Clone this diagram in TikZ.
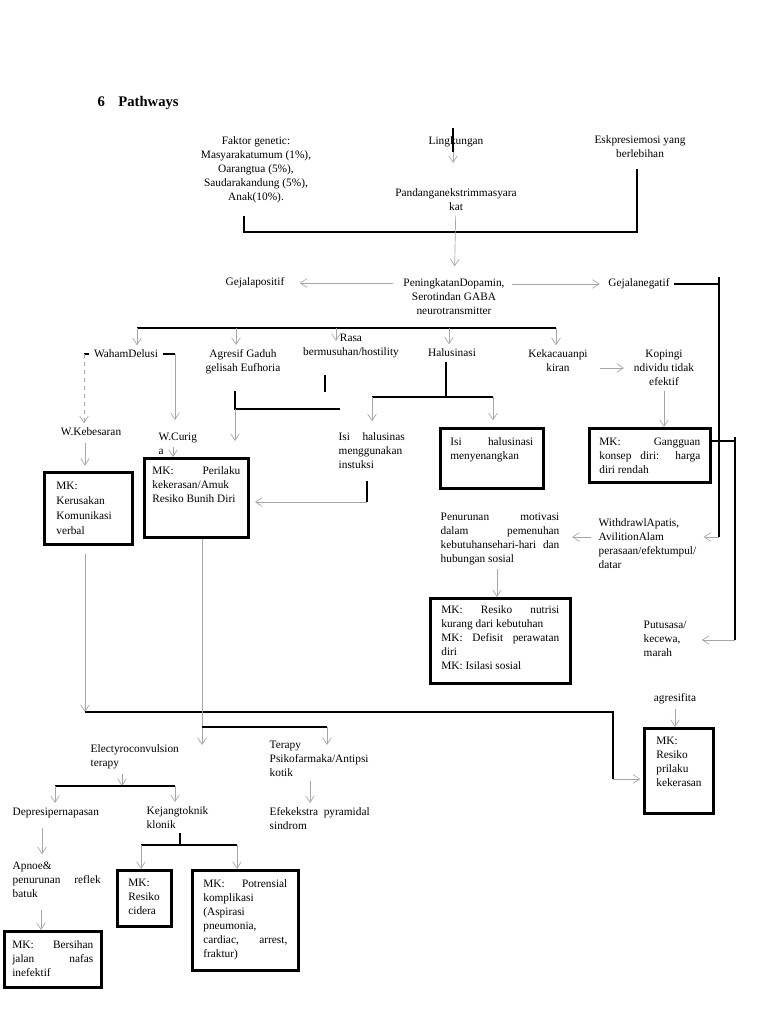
\documentclass[tikz,border=0pt]{standalone}
\usepackage{fontspec}
\setmainfont{Liberation Serif}
\usepackage{tikz}
\usetikzlibrary{arrows.meta}
\tikzstyle{every node}=[font=\fontsize{8.5}{10.5}\selectfont]
\tikzstyle{darkline}=[draw=black, line width=0.8pt]
\tikzstyle{greyarrow}=[draw=black!35, line width=0.5pt, -{Straight Barb[length=5pt,width=6.5pt]}]
\tikzstyle{mkbox}=[draw, line width=2pt, anchor=north west, text height=7pt, align=justify]
\hyphenpenalty=10000
\exhyphenpenalty=10000
\tolerance=10000
\hbadness=10000

\begin{document}
\begin{tikzpicture}[x=0.75pt, y=-0.75pt]
    \fill [white] (0, 0) rectangle (768, 1024);
    \useasboundingbox (0, 0) rectangle (768, 1024);
    \node (title) [anchor=base west, font=\fontsize{11}{13}\selectfont\bfseries] at (93, 107) {6\hspace{10pt}Pathways};

    \node (faktor) [align=center] at (256, 170) {Faktor genetic:\\Masyarakatumum (1\%),\\Oarangtua (5\%),\\Saudarakandung (5\%),\\Anak(10\%).};
    \node (lingkungan) at (456, 142) {Lingkungan};
    \node (pandangan) [align=center] at (456, 200) {Pandanganekstrimmasyara\\kat};
    \node (ekspresi) [align=center] at (640, 147) {Eskpresiemosi yang\\berlebihan};
    \node (peningkatan) [align=center] at (454, 297) {PeningkatanDopamin,\\Serotindan GABA\\neurotransmitter};
    \node (gpos) at (255, 283) {Gejalapositif};
    \node (gneg) at (639, 284) {Gejalanegatif};

    \node (waham) at (126, 354) {WahamDelusi};
    \node (agresif) [align=center] at (243, 362) {Agresif Gaduh\\gelisah Eufhoria};
    \node (rasa) [align=center] at (351, 346) {Rasa\\bermusuhan/hostility};
    \node (halusinasi) at (452, 353) {Halusinasi};
    \node (kekacauan) [align=center] at (558, 361) {Kekacauanpi\\kiran};
    \node (koping) [align=center] at (664, 368) {Kopingi\\ndividu tidak\\efektif};

    \node (wkeb) at (91, 432) {W.Kebesaran};
    \node (wcur) [align=left, anchor=north west] at (154, 428) {W.Curig\\a};
    \node (isihalmeng) [text width=49.5pt, align=justify, anchor=north west] at (334, 428) {Isi halusinas\linebreak menggunakan\newline instuksi};
    \node (isihalmen) [mkbox, inner xsep=7.5pt, inner ysep=5.75pt, text width=62.25pt, text depth=26.5pt] at (439, 427) {Isi halusinasi\linebreak menyenangkan};
    \node (gangguan) [mkbox, inner xsep=7.5pt, inner ysep=5.75pt, text width=75.75pt, text depth=22pt] at (588, 427) {MK: Gangguan\linebreak konsep diri: harga\linebreak diri rendah};
    \node (kerusakan) [mkbox, inner xsep=9pt, inner ysep=5.75pt, text width=48pt, text depth=35.5pt, font=\fontsize{8.5}{11.25}\selectfont] at (43, 471) {MK:\newline Kerusakan\newline Komunikasi\newline verbal};
    \node (perilaku) [mkbox, inner xsep=6pt, inner ysep=5pt, text width=66pt, text depth=42.25pt] at (143, 457) {MK: Perilaku\linebreak kekerasan/Amuk\newline Resiko Bunih Diri};

    \node (penurunan) [text width=89pt, align=justify, anchor=north west] at (436, 508) {Penurunan motivasi\linebreak dalam pemenuhan\linebreak kebutuhansehari-hari dan\linebreak hubungan sosial};
    \node (withdrawl) [align=left, anchor=north west] at (594, 514) {WithdrawlApatis,\\AvilitionAlam\\perasaan/efektumpul/\\datar};
    \node (nutrisi) [mkbox, inner xsep=8.25pt, inner ysep=4.25pt, text width=88.5pt, text depth=48.25pt] at (429, 597) {MK: Resiko nutrisi\linebreak kurang dari kebutuhan\newline MK: Defisit perawatan\linebreak diri\newline MK: Isilasi sosial};
    \node (putus) [align=left, anchor=north west] at (639, 616) {Putusasa/\\kecewa,\\marah};
    \node (agresifita) at (675, 699) {agresifita};
    \node (prilaku) [mkbox, inner xsep=9pt, inner ysep=5pt, text width=33.75pt, text depth=46.75pt] at (643, 727) {MK:\newline Resiko\newline prilaku\newline kekerasan};

    \node (elec) [align=left, anchor=north west] at (86, 740) {Electyroconvulsion\\terapy};
    \node (terapy) [align=left, anchor=north west] at (265, 736) {Terapy\\Psikofarmaka/Antipsi\\kotik};
    \node (depresi) [anchor=north west] at (8, 803) {Depresipernapasan};
    \node (kejang) [align=left, anchor=north west] at (142, 802) {Kejangtoknik\\klonik};
    \node (efek) [text width=75pt, align=justify, anchor=north west] at (265, 803) {Efekekstra pyramidal\linebreak sindrom};
    \node (apnoe) [text width=66pt, align=justify, anchor=north west] at (8, 857) {Apnoe\&\newline penurunan reflek\linebreak batuk};
    \node (cidera) [mkbox, inner xsep=8.25pt, inner ysep=5pt, text width=24pt, text depth=25pt] at (116, 869) {MK:\newline Resiko\newline cidera};
    \node (potrensial) [mkbox, inner xsep=8.25pt, inner ysep=5.75pt, text width=63pt, text depth=56.5pt] at (191, 869) {MK: Potrensial\linebreak komplikasi\newline (Aspirasi\newline pneumonia,\newline cardiac, arrest,\linebreak fraktur)};
    \node (bersihan) [mkbox, inner xsep=6pt, inner ysep=5.75pt, text width=60.75pt, text depth=23.5pt] at (3, 930) {MK: Bersihan\linebreak jalan nafas\linebreak inefektif};

    \coordinate (lk) at (453, 128);
    \coordinate (lkarr) at (453, 163);
    \coordinate (fk) at (244, 232);
    \coordinate (ek) at (637, 232);
    \coordinate (b1) at (137, 328);
    \coordinate (b2) at (236, 328);
    \coordinate (b3) at (336, 328);
    \coordinate (b4) at (449, 328);
    \coordinate (b5) at (556, 328);
    \coordinate (b3t) at (336, 341);
    \coordinate (rtop) at (719, 277);
    \coordinate (rbot) at (719, 537);
    \coordinate (gg) at (735, 441);
    \coordinate (rrtop) at (735, 437);
    \coordinate (rrbot) at (735, 640);
    \coordinate (wl) at (84, 354);
    \coordinate (wr) at (175, 354);
    \coordinate (wrt) at (175, 420);
    \coordinate (wcarr) at (173, 447);
    \coordinate (ag1) at (235, 409);
    \coordinate (ag2) at (340, 409);
    \coordinate (agt) at (235, 441);
    \coordinate (rs) at (325, 392);
    \coordinate (hb) at (446, 397);
    \coordinate (hb1) at (372, 397);
    \coordinate (hb2) at (493, 397);
    \coordinate (kk) at (624, 368);
    \coordinate (wd) at (580, 537);
    \coordinate (nt) at (497, 580);
    \coordinate (im) at (367, 502);
    \coordinate (kb1) at (85, 712);
    \coordinate (kb2) at (613, 712);
    \coordinate (kb3) at (613, 779);
    \coordinate (pb1) at (202, 727);
    \coordinate (pb2) at (327, 727);
    \coordinate (pbt) at (202, 745);
    \coordinate (pbt2) at (327, 745);
    \coordinate (el1) at (122, 786);
    \coordinate (el2) at (55, 786);
    \coordinate (el3) at (175, 786);
    \coordinate (tf) at (310, 790);
    \coordinate (dp) at (42, 840);
    \coordinate (kj) at (180, 845);
    \coordinate (kj1) at (141, 845);
    \coordinate (kj2) at (237, 845);
    \coordinate (ap) at (41, 920);

    \draw [darkline] (lk) -- (lk |- lingkungan.south);
    \draw [greyarrow] (lk |- lingkungan.south) -- (lkarr);
    \draw [darkline, shorten <=6pt, shorten >=5pt] (faktor.south -| fk) -- (fk) -- (ek) -- (ekspresi.south -| ek);
    \draw [greyarrow, shorten >=6pt] (pandangan) -- (peningkatan);
    \draw [greyarrow, shorten <=4pt, shorten >=8pt] (gpos -| peningkatan.west) -- (gpos.east);
    \draw [greyarrow, shorten <=2pt, shorten >=3pt] (gneg -| peningkatan.east) -- (gneg.west);
    \draw [darkline] (gneg.east) -- (gneg.east -| rtop);
    \draw [darkline] (rtop) -- (rbot);
    \draw [greyarrow, shorten >=2pt] (rbot) -- (rbot -| withdrawl.east);

    \draw [darkline] (b1) -- (b5);
    \draw [greyarrow] (b1) -- (b1 |- waham.north);
    \draw [greyarrow] (b2) -- (b2 |- agresif.north);
    \draw [greyarrow] (b3) -- (b3t);
    \draw [greyarrow] (b4) -- (b4 |- halusinasi.north);
    \draw [greyarrow] (b5) -- (b5 |- kekacauan.north);

    \draw [darkline] (waham.west) -- (wl);
    \draw [greyarrow, dashed] (wl) -- (wl |- wkeb.north);
    \draw [darkline] (waham.east) -- (wr);
    \draw [greyarrow] (wr) -- (wrt);
    \draw [greyarrow, shorten <=2pt, shorten >=4pt] (wkeb.south -| kb1) -- (kerusakan.north -| kb1);
    \draw [greyarrow] (wcarr) -- (perilaku.north -| wcarr);
    \draw [darkline, shorten <=9pt] (agresif.south -| ag1) -- (ag1) -- (ag2);
    \draw [greyarrow] (ag1) -- (agt);
    \draw [darkline, shorten <=9pt] (rasa.south -| rs) -- (rs);
    \draw [darkline] (halusinasi.south -| hb) -- (hb);
    \draw [darkline] (hb1) -- (hb2);
    \draw [greyarrow, shorten >=5pt] (hb1) -- (hb1 |- isihalmeng.north);
    \draw [greyarrow, shorten >=5pt] (hb2) -- (hb2 |- isihalmen.north);
    \draw [greyarrow, shorten <=6pt] (kekacauan.east |- kk) -- (kk);
    \draw [greyarrow] (koping.south) -- (koping.south |- gangguan.north);
    \draw [darkline] (gangguan.east |- gg) -- (gg);
    \draw [darkline] (rrtop) -- (rrbot);
    \draw [greyarrow, shorten >=8pt] (rrbot) -- (rrbot -| putus.east);
    \draw [greyarrow, shorten <=2pt, shorten >=6pt] (withdrawl.west |- wd) -- (penurunan.east |- wd);
    \draw [greyarrow] (penurunan.south -| nt) -- (nutrisi.north -| nt);
    \draw [darkline, shorten <=6pt] (isihalmeng.south -| im) -- (im);
    \draw [greyarrow, shorten >=4pt] (im) -- (im -| perilaku.east);

    \draw [greyarrow, shorten <=6pt] (kerusakan.south -| kb1) -- (kb1);
    \draw [darkline] (kb1) -- (kb2) -- (kb3);
    \draw [greyarrow, shorten >=2pt] (kb3) -- (kb3 -| prilaku.west);
    \draw [greyarrow] (agresifita.south) -- (agresifita.south |- prilaku.north);
    \draw [greyarrow] (perilaku.south -| pb1) -- (pbt);
    \draw [darkline] (pb1) -- (pb2);
    \draw [greyarrow] (pb2) -- (pbt2);
    \draw [greyarrow] (elec.south -| el1) -- (el1);
    \draw [darkline] (el2) -- (el3);
    \draw [greyarrow] (el2) -- (el2 |- depresi.north);
    \draw [greyarrow] (el3) -- (el3 |- kejang.north);
    \draw [greyarrow] (terapy.south -| tf) -- (efek.north -| tf);
    \draw [greyarrow, shorten <=4pt, shorten >=2pt] (depresi.south -| dp) -- (apnoe.north -| dp);
    \draw [darkline] (kejang.south -| kj) -- (kj);
    \draw [darkline] (kj1) -- (kj2);
    \draw [greyarrow] (kj1) -- (kj1 |- cidera.north);
    \draw [greyarrow] (kj2) -- (kj2 |- potrensial.north);
    \draw [greyarrow, shorten <=6pt] (apnoe.south -| ap) -- (ap |- bersihan.north);
\end{tikzpicture}
\end{document}
